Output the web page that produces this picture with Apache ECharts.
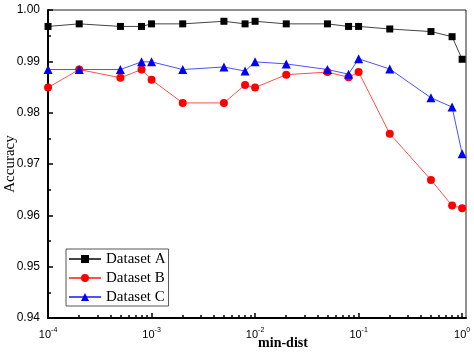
<!DOCTYPE html>
<html><head><meta charset="utf-8">
<script src="https://cdn.jsdelivr.net/npm/echarts@6/dist/echarts.min.js"></script>
<style>html,body{margin:0;padding:0;background:#fff}#c{width:474px;height:352px}</style>
</head><body><div id="c"></div>
<script>
const minDist = [1e-4, 2e-4, 5e-4, 8e-4, 1e-3, 2e-3, 5e-3, 8e-3, 1e-2, 2e-2, 5e-2, 8e-2, 0.1, 0.2, 0.5, 0.8, 1.0];
const datasetA = [0.9968, 0.9973, 0.9968, 0.9968, 0.9973, 0.9973, 0.9978, 0.9973, 0.9978, 0.9973, 0.9973, 0.9968, 0.9968, 0.9963, 0.9958, 0.9948, 0.9904];
const datasetB = [0.9849, 0.9884, 0.9868, 0.9884, 0.9864, 0.9819, 0.9819, 0.9854, 0.9849, 0.9874, 0.9879, 0.9869, 0.9879, 0.9759, 0.9669, 0.9619, 0.9614];
const datasetC = [0.9884, 0.9884, 0.9884, 0.9899, 0.9899, 0.9884, 0.9889, 0.9881, 0.9899, 0.9895, 0.9884, 0.9875, 0.9905, 0.9885, 0.9829, 0.9811, 0.9720];
const seriesNames = ['Dataset A', 'Dataset B', 'Dataset C'];
const xMajorTicks = [1e-4, 1e-3, 1e-2, 1e-1, 1];
const xMinorTicks = [2e-4, 3e-4, 4e-4, 5e-4, 6e-4, 7e-4, 8e-4, 9e-4,
                     2e-3, 3e-3, 4e-3, 5e-3, 6e-3, 7e-3, 8e-3, 9e-3,
                     2e-2, 3e-2, 4e-2, 5e-2, 6e-2, 7e-2, 8e-2, 9e-2,
                     0.2, 0.3, 0.4, 0.5, 0.6, 0.7, 0.8, 0.9];
const yMin = 0.94, yMax = 1.00, yStep = 0.01;

const chart = echarts.init(document.getElementById('c'), null, {renderer: 'canvas'});
const pair = arr => minDist.map((x, i) => [x, arr[i]]);
const serif = 'Liberation Serif';
const sans = 'Liberation Sans';

chart.setOption({
  animation: false,
  backgroundColor: '#fff',
  grid: {left: 48, right: 8, top: 10, bottom: 34, outerBoundsMode: 'none', containLabel: false,
         show: true, borderColor: '#222', borderWidth: 1, backgroundColor: 'transparent'},
  legend: {
    orient: 'vertical', left: 66, top: 249,
    data: seriesNames,
    backgroundColor: '#fff', borderColor: '#555', borderWidth: 1, borderRadius: 0,
    padding: [2, 3, 1, 2], itemGap: 3, itemWidth: 32, itemHeight: 10,
    textStyle: {fontFamily: serif, fontSize: 15, color: '#000', lineHeight: 16}
  },
  xAxis: [{
    type: 'log', logBase: 10, min: 0.0000999, max: 1.09,
    axisLine: {show: true, onZero: false, lineStyle: {color: '#000', width: 2}},
    axisTick: {show: true, inside: true, length: 5, customValues: xMajorTicks, lineStyle: {color: '#000', width: 1.5}},
    minorTick: {show: false},
    splitLine: {show: false},
    axisLabel: {
      customValues: xMajorTicks, margin: 9, color: '#000',
      formatter: v => '{b|10}{s|' + Math.round(Math.log10(v)) + '}',
      rich: {
        b: {fontFamily: sans, fontSize: 11, color: '#000', lineHeight: 15},
        s: {fontFamily: sans, fontSize: 7, color: '#000', lineHeight: 8, verticalAlign: 'top'}
      }
    },
    name: 'min-dist', nameLocation: 'middle', nameGap: 18, nameMoveOverlap: false,
    nameTextStyle: {fontFamily: serif, fontSize: 14, fontWeight: 'bold', color: '#000', padding: [0, 0, 0, 52]}
  }, {
    type: 'log', logBase: 10, min: 0.0000999, max: 1.09, position: 'bottom',
    axisLine: {show: false},
    axisTick: {show: true, inside: true, length: 3, customValues: xMinorTicks, lineStyle: {color: '#000', width: 1.5}},
    axisLabel: {show: false},
    splitLine: {show: false}
  }],
  yAxis: {
    type: 'value', min: yMin, max: yMax, interval: yStep,
    axisLine: {show: true, lineStyle: {color: '#000', width: 2}},
    axisTick: {show: true, inside: true, length: 5, lineStyle: {color: '#000', width: 1.5}},
    minorTick: {show: true, splitNumber: 2, length: 3, lineStyle: {color: '#000', width: 1.5}},
    splitLine: {show: false},
    axisLabel: {formatter: v => v.toFixed(2), fontFamily: sans, fontSize: 12, color: '#000', margin: 8},
    name: 'Accuracy', nameLocation: 'middle', nameGap: 30, nameMoveOverlap: false,
    nameTextStyle: {fontFamily: serif, fontSize: 15, color: '#000'}
  },
  series: [
    {name: seriesNames[0], type: 'line', data: pair(datasetA), symbol: 'rect', symbolSize: 7,
     itemStyle: {color: '#000'}, lineStyle: {color: '#444', width: 1}},
    {name: seriesNames[1], type: 'line', data: pair(datasetB), symbol: 'circle', symbolSize: 8,
     itemStyle: {color: '#ff0000'}, lineStyle: {color: '#ff5050', width: 1}},
    {name: seriesNames[2], type: 'line', data: pair(datasetC), symbol: 'triangle', symbolSize: 9,
     itemStyle: {color: '#0000ff'}, lineStyle: {color: '#5050ff', width: 1}}
  ]
});
</script></body></html>
